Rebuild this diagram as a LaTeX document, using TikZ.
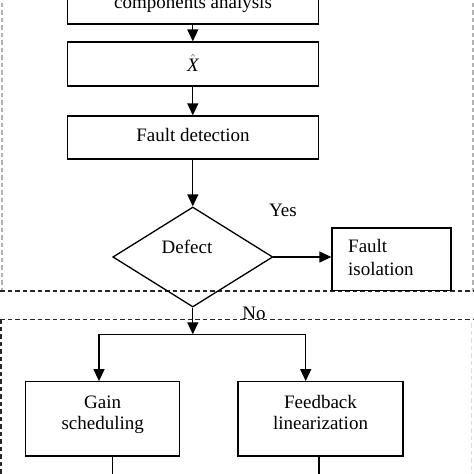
\documentclass[tikz,border=0pt]{standalone}
\usepackage{fontspec}
\setmainfont{Liberation Serif}
\usetikzlibrary{shapes.geometric,arrows.meta}
\begin{document}
\begin{tikzpicture}[x=1pt,y=-1pt,
  box/.style={draw,line width=1.3pt,inner sep=0pt,rectangle},
  txt/.style={inner sep=0pt,font=\fontsize{19}{22}\selectfont},
  arr/.style={line width=1.3pt,-{Triangle[length=12pt,width=11pt]}},
  ln/.style={line width=1.3pt},
  dsh/.style={line width=1.2pt,dash pattern=on 4.5pt off 3pt},
]
\useasboundingbox (0,0) rectangle (474,474);
\clip (0,0) rectangle (474,474);
% regions
\draw[dsh,gray!60] (2,-5) coordinate (ulT) -- (2,291) coordinate (ulB);
\draw[dsh,gray!60] (473,-5) coordinate (urT) -- (473,291) coordinate (urB);
\draw[dsh,black!85] (0,291) coordinate (ubL) -- (474,291) coordinate (ubR);
\draw[dsh,black!85] (0,319.3) coordinate (ltL) -- (474,319.3) coordinate (ltR);
\draw[dsh,black!85] (1,319.3) coordinate (llT) -- (1,480) coordinate (llB);
\draw[dsh,gray!25] (471.7,323) coordinate (lrT) -- (471.7,480) coordinate (lrB);
% boxes
\node[box,minimum width=251pt,minimum height=54pt] (pca) at (192.8,-3) {};
\node[txt,anchor=base] (tpca) at (193,8.5) {components analysis};
\node[box,minimum width=251pt,minimum height=44pt] (xh) at (192.8,64) {};
\node[txt,anchor=base] (txh) at (193,71) {$\hat{\hbox{\itshape X}}$};
\node[box,minimum width=251pt,minimum height=43pt] (fd) at (192.8,137.5) {};
\node[txt,anchor=base] (tfd) at (193,141.7) {Fault detection};
\node[draw,line width=1.3pt,diamond,inner sep=0pt,minimum width=160pt,minimum height=100pt] (d) at (192.8,257) {};
\node[txt,anchor=base] (td) at (187,253.3) {Defect};
\node[box,minimum width=119pt,minimum height=62.7pt] (fi) at (391.5,259.3) {};
\node[txt,anchor=base west] (tfi1) at (348,252.7) {Fault};
\node[txt,anchor=base west] (tfi2) at (348,275) {isolation};
\node[txt,anchor=base] (tyes) at (283,216.7) {Yes};
\node[txt,anchor=base] (tno) at (254,319) {No};
\node[box,minimum width=154pt,minimum height=74.3pt] (gs) at (102.7,418.9) {};
\node[txt,anchor=base] (tgs1) at (102.7,408.3) {Gain};
\node[txt,anchor=base] (tgs2) at (102.7,429.3) {scheduling};
\node[box,minimum width=165pt,minimum height=74.3pt] (fl) at (320.5,418.9) {};
\node[txt,anchor=base] (tfl1) at (320.5,408.3) {Feedback};
\node[txt,anchor=base] (tfl2) at (320.5,429.3) {linearization};
% connectors
\draw[arr] (pca.south) -- (xh.north);
\draw[arr] (xh.south) -- (fd.north);
\draw[arr] (fd.south) -- (d.north);
\draw[arr] (d.east) -- (d.east -| fi.west);
\coordinate (fork) at (192.8,334.3);
\coordinate (forkL) at (99,334.3);
\coordinate (forkR) at (305.7,334.3);
\draw[arr] (d.south) -- (fork);
\draw[ln] (forkL) -- (forkR);
\draw[arr] (forkL) -- (forkL |- gs.north);
\draw[arr] (forkR) -- (forkR |- fl.north);
\coordinate (gsB) at (112.7,480);
\coordinate (flB) at (319,480);
\draw[ln] (gsB |- gs.south) -- (gsB);
\draw[ln] (flB |- fl.south) -- (flB);
\end{tikzpicture}
\end{document}
